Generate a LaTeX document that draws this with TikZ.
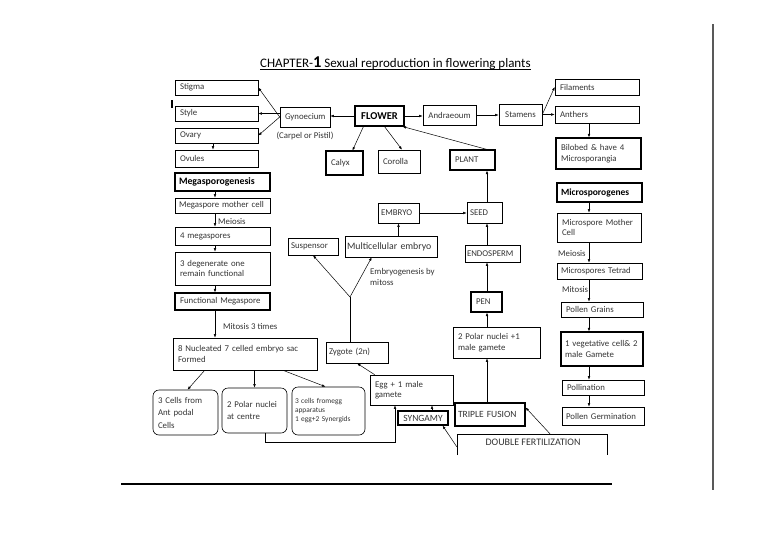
\documentclass[tikz,border=0pt]{standalone}
\usepackage{fontspec}
\setmainfont{Carlito}
\usetikzlibrary{arrows.meta,calc}
\definecolor{txt}{HTML}{333333}
\newcommand\bx[7][]{%
  \pgfmathsetmacro\bxW{#5-#3}%
  \pgfmathsetmacro\bxH{#6-#4}%
  \pgfmathsetmacro\bxT{#5-#3-10}%
  \node[box,minimum width=\bxW pt,minimum height=\bxH pt,text width=\bxT pt,#1] (#2) at ({(#3+#5)/2},{(#4+#6)/2}) {#7};}
\begin{document}
\begin{tikzpicture}[x=1pt,y=-1pt,
  box/.style={draw,line width=0.6pt,inner xsep=5pt,inner ysep=1pt,align=left,
    font=\fontsize{8.8}{10.6}\selectfont,text=txt},
  thick box/.style={line width=1.1pt},
  rbox/.style={rounded corners=6pt},
  arr/.style={-{Latex[length=3.5pt,width=2.6pt]},line width=0.5pt},
  lbl/.style={anchor=west,inner sep=0pt,font=\fontsize{8.8}{10.6}\selectfont,text=txt,align=left}]
\useasboundingbox (0,0) rectangle (768,544);
% title
\node[anchor=base west,inner sep=0pt,font=\fontsize{13}{15}\selectfont] (title) at (260,67)
  {CHAPTER-{\fontsize{16.5}{17}\selectfont\bfseries 1} Sexual reproduction in flowering plants};
\draw[line width=0.7pt] ([yshift=-2.5pt]title.base west) -- ([yshift=-2.5pt]title.base east);
% frame lines
\draw[line width=2pt,black!65] (713,24) -- (713,490);
\draw[line width=1.8pt] (121,484) -- (612,484);
\draw[line width=1.2pt] (172,100) -- (172,108);
% left column
\bx{stig}{175}{80}{258}{95}{Stigma}
\bx{style}{175}{106}{258}{121}{Style}
\bx{ovary}{175}{128}{258}{143}{Ovary}
\bx{ovules}{175}{150}{258}{167}{Ovules}
\bx[thick box,font=\fontsize{9.8}{11}\selectfont\bfseries,text=black,inner xsep=4pt,text width=87pt]{megag}{175}{173}{270}{191}{Megasporogenesis}
\bx[inner xsep=4pt,text width=87pt]{mmc}{175}{198}{270}{213}{Megaspore mother cell}
\bx{mfour}{175}{227}{270}{245}{4 megaspores}
\bx{deg}{175}{252}{270}{285}{3 degenerate one\\remain functional}
\bx[thick box]{fm}{175}{293}{270}{310}{Functional Megaspore}
\bx{nuc}{173}{338}{317}{370}{8 Nucleated 7 celled embryo sac\\Formed}
\bx[rbox,font=\fontsize{8.8}{12.5}\selectfont]{ant}{153}{390}{218}{435}{3 Cells from\\Ant podal\\Cells}
\bx[rbox,font=\fontsize{8.8}{12}\selectfont]{pol}{222}{388}{287}{433}{2 Polar nuclei\\at centre\\[8pt]}
\bx[rbox,font=\fontsize{7.4}{9}\selectfont,inner xsep=3pt,text width=67pt]{egga}{292}{387}{365}{435}{3 cells fromegg\\apparatus\\1 egg+2 Synergids}
% top middle
\bx[align=center]{gyn}{280}{107}{330}{127}{Gynoecium}
\node[font=\fontsize{8.8}{10.6}\selectfont,text=txt,inner sep=0pt] (carp) at (305,136) {(Carpel or Pistil)};
\bx[thick box,align=center,font=\fontsize{10.5}{12}\selectfont\bfseries,text=black]{flower}{355}{106}{404}{126}{FLOWER}
\bx[thick box]{calyx}{326}{151}{363}{175}{Calyx}
\bx{corolla}{378}{150}{420}{173}{Corolla}
\bx[thick box]{plant}{450}{150}{495}{170}{PLANT}
\bx[align=center,inner xsep=2pt,text width=49pt]{andr}{423}{105}{476}{125}{Andraeoum}
\bx[align=center,inner xsep=2pt,text width=39pt]{stam}{499}{104}{542}{125}{Stamens}
% right column
\bx{fil}{555}{79}{639}{95}{Filaments}
\bx{anth}{555}{106}{639}{123}{Anthers}
\bx[thick box]{bil}{556}{138}{641}{169}{Bilobed \& have 4\\Microsporangia}
\bx[thick box,font=\fontsize{9.5}{11}\selectfont\bfseries,text=black,inner xsep=4pt,text width=77pt]{micg}{557}{183}{642}{202}{Microsporogenes}
\bx{mmct}{557}{213}{641}{242}{Microspore Mother\\Cell}
\bx[inner xsep=4pt,text width=77pt]{tet}{557}{263}{642}{279}{Microspores Tetrad}
\bx{pg}{561}{302}{643}{317}{Pollen Grains}
\bx[thick box,inner xsep=4pt,text width=74pt]{veg}{561}{332}{643}{366}{1 vegetative cell\& 2\\male Gamete}
\bx{poll}{562}{380}{644}{395}{Pollination}
\bx[inner xsep=4pt,text width=74pt]{pgerm}{562}{407}{644}{425}{Pollen Germination}
% centre
\bx[inner xsep=3pt,text width=35pt]{emb}{378}{203}{419}{223}{EMBRYO}
\bx[inner xsep=3pt,text width=29pt]{seed}{467}{202}{502}{223}{SEED}
\bx[inner xsep=3pt,text width=44pt]{susp}{288}{238}{338}{255}{Suspensor}
\bx[font=\fontsize{9.8}{12}\selectfont,inner xsep=2pt,text width=88pt]{multi}{345}{236}{437}{257}{Multicellular embryo}
\bx[inner xsep=2pt,text width=51pt]{endo}{465}{245}{520}{262}{ENDOSPERM}
\bx[thick box]{pen}{471}{292}{502}{312}{PEN}
\bx{pnm}{453}{327}{540}{358}{2 Polar nuclei +1\\male gamete}
\bx[inner xsep=3pt,text width=56pt]{zyg}{326}{342}{388}{363}{Zygote (2n)}
\bx{egg}{370}{375}{453}{405}{Egg + 1 male\\gamete}
\bx[thick box,font=\fontsize{9.5}{11}\selectfont,inner xsep=2pt,text width=46pt,align=center]{syn}{398}{411}{448}{425}{SYNGAMY}
\bx[thick box,font=\fontsize{9.5}{11}\selectfont,inner xsep=3pt,text width=64pt]{tf}{455}{403}{525}{426}{TRIPLE FUSION}
\node[minimum width=150pt,minimum height=21pt,inner sep=0pt] (df) at (532,444.5) {};
\node[font=\fontsize{10}{12}\selectfont,text=txt,inner sep=0pt] (dft) at (533,442) {DOUBLE FERTILIZATION};
\draw[line width=0.6pt] (df.south west) -- (df.north west) -- (df.north east) -- (df.south east);
% labels
\node[lbl] (lmei) at (218,221) {Meiosis};
\node[lbl] (lmit) at (223,326) {Mitosis 3 times};
\node[lbl] (lemb) at (370,277) {Embryogenesis by\\mitoss};
\node[lbl] (rmei) at (558,253) {Meiosis};
\node[lbl] (rmit) at (562,289) {Mitosis};
% column coordinates
\coordinate (colO) at (213,0);
\coordinate (colL) at (215,0);
\coordinate (colR) at (589,0);
\coordinate (colS) at (487,0);
\coordinate (yj) at (350,297);
\coordinate (ca) at (265,442);
\coordinate (cb) at (395,442);
% connectors: gynoecium
\draw[arr] (gyn.west) -- (stig.east);
\draw[arr] (gyn.west |- style.east) -- (style.east);
\draw[arr] (gyn.west) -- (ovary.east);
\draw[arr] (ovary.south -| colO) -- (ovules.north -| colO);
\draw[arr] (flower.west) -- (flower.west -| gyn.east);
\draw[arr] (flower.east) -- (flower.east -| andr.west);
\draw[arr] (andr.east) -- (andr.east -| stam.west);
\draw[arr] (stam.east) -- (fil.west);
\draw[arr] (stam.east) -- (stam.east -| anth.west);
\draw[arr] (anth.south -| colR) -- (bil.north -| colR);
\draw[arr] ([xshift=9pt]flower.south west) -- ([xshift=8pt]calyx.north);
\draw[arr] ([xshift=5pt]flower.south) -- ([xshift=3pt]corolla.north);
\draw[arr] (plant.north -| colS) -- ([xshift=-2pt]flower.south east);
% microsporogenesis
\draw[arr] (micg.south -| colR) -- (mmct.north -| colR);
\draw[arr] (mmct.south -| colR) -- (tet.north -| colR);
\draw[arr] (tet.south -| colR) -- (pg.north -| colR);
\draw[arr] (pg.south -| colR) -- (veg.north -| colR);
\draw[arr] (veg.south -| colR) -- (poll.north -| colR);
\draw[arr] (poll.south -| colR) -- (pgerm.north -| colR);
% megasporogenesis
\draw[arr] (megag.south -| colL) -- (mmc.north -| colL);
\draw[arr] (mmc.south -| colL) -- (mfour.north -| colL);
\draw[arr] (mfour.south -| colL) -- (deg.north -| colL);
\draw[arr] (deg.south -| colL) -- (fm.north -| colL);
\draw[arr] (fm.south -| colL) -- (nuc.north -| colL);
\draw[arr] ([xshift=32pt]nuc.south west) -- ([xshift=2pt]ant.north);
\draw[arr] (pol.north |- nuc.south) -- (pol.north);
\draw[arr] ([xshift=38pt]nuc.south) -- ([xshift=-3pt]egga.north);
\draw[arr] (pol.south -| ca) -- (ca) -- (cb) -- (cb |- egg.south);
% seed column
\draw[arr] (seed.north -| colS) -- (plant.south -| colS);
\draw[arr] (emb.east) -- (emb.east -| seed.west);
\draw[arr] (endo.north -| colS) -- (seed.south -| colS);
\draw[arr] (pen.north -| colS) -- (endo.south -| colS);
\draw[arr] (pnm.north -| colS) -- (pen.south -| colS);
\draw[arr] (tf.north -| colS) -- (pnm.south -| colS);
% embryo
\draw[arr] (multi.north -| emb.south) -- (emb.south);
\draw[line width=0.6pt] (zyg.north -| yj) -- (yj);
\draw[arr] (yj) -- (susp.south);
\draw[arr] (yj) -- ([xshift=27pt]multi.south west);
\draw[arr] ([xshift=5pt]egg.north west) -- (zyg.south);
\draw[arr] ([xshift=9pt]syn.north) -- ([xshift=9pt]syn.north |- egg.south);
\draw[arr] ([xshift=18pt]df.north) -- ([yshift=-5pt]tf.north east);
\draw[arr] ([yshift=-13pt]df.north west) -- ([xshift=-6pt]syn.south east);
\end{tikzpicture}
\end{document}
